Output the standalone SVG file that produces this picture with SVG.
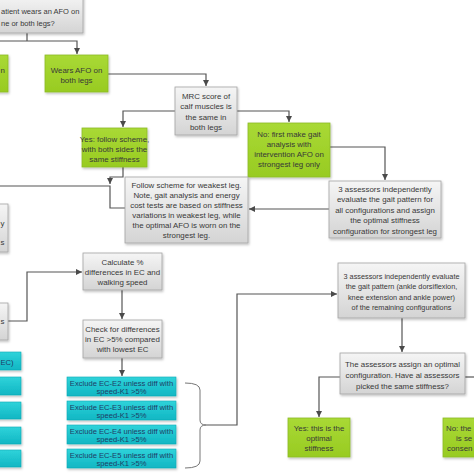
<svg xmlns="http://www.w3.org/2000/svg" width="474" height="474" viewBox="0 0 474 474">
<defs>
<linearGradient id="gGrey" x1="0" y1="0" x2="0" y2="1"><stop offset="0" stop-color="#f5f5f5"/><stop offset="1" stop-color="#d4d4d4"/></linearGradient>
<linearGradient id="gGreen" x1="0" y1="0" x2="0" y2="1"><stop offset="0" stop-color="#a9d935"/><stop offset="1" stop-color="#98cb22"/></linearGradient>
<linearGradient id="gCyan" x1="0" y1="0" x2="0" y2="1"><stop offset="0" stop-color="#2fd3da"/><stop offset="1" stop-color="#10b6c3"/></linearGradient>
<filter id="sh" x="-10%" y="-10%" width="130%" height="140%"><feDropShadow dx="1" dy="1.5" stdDeviation="0.8" flood-color="#000" flood-opacity="0.25"/></filter>
<marker id="ah" markerUnits="userSpaceOnUse" markerWidth="7" markerHeight="7" refX="6" refY="3" orient="auto"><path d="M0,0 L6,3 L0,6 z" fill="#4a4a4a"/></marker>
</defs>
<style>
.grey{fill:url(#gGrey);stroke:#a3a3a3;stroke-width:0.8;filter:url(#sh)}
.green{fill:url(#gGreen);stroke:#8dbb26;stroke-width:0.8;filter:url(#sh)}
.cyan{fill:url(#gCyan);stroke:#12aab5;stroke-width:0.6;filter:url(#sh)}
text{font-family:"Liberation Sans",Arial,sans-serif;font-size:7.9px;fill:#383838;text-anchor:middle}
.cy text{fill:#1f3d66;font-size:7.6px}
.sm text{font-size:7.3px}
.st{text-anchor:start}
.ln{fill:none;stroke:#555;stroke-width:1.2}
.ar{marker-end:url(#ah)}
</style>
<g id="connectors">
<path class="ln" d="M27,33 V41"/>
<path class="ln ar" d="M0,41 H77 V54"/>
<path class="ln ar" d="M108,74 H206 V86"/>
<path class="ln ar" d="M175,111 H123 V127"/>
<path class="ln ar" d="M237,111 H289 V122"/>
<path class="ln ar" d="M123,167 V177 H110 V184"/>
<path class="ln" d="M0,186 H110 V208 H125"/>
<path class="ln ar" d="M330,147 H385 V180"/>
<path class="ln ar" d="M329,209 H249"/>
<path class="ln ar" d="M8,321 H27 V272 H82"/>
<path class="ln ar" d="M122,290 V319"/>
<path class="ln ar" d="M122,358 V376"/>
<path class="ln" style="stroke:#666;stroke-width:0.9" d="M185,383 Q200,383 200,390 V420 Q200,425 206,425 Q200,425 200,430 V461 Q200,468 185,468"/>
<path class="ln ar" d="M206,425 H237 V294 H337"/>
<path class="ln ar" d="M402,318 V352"/>
<path class="ln ar" d="M340,377 H319 V417"/>
<path class="ln" d="M465,377 H474"/>
</g>
<g id="n_top"><rect class="grey" x="-20" y="-5" width="103" height="38"/><text class="st" x="1" y="13.5" style="font-size:7.5px">atient wears an AFO on</text><text class="st" x="1" y="25.5" style="font-size:7.5px">ne or both legs?</text></g>
<g id="n_oneleg"><rect class="green" x="-30" y="55" width="38" height="37"/><text class="st" x="0.5" y="72.5">n</text></g>
<g id="n_bothlegs"><rect class="green" x="45" y="55" width="63" height="37"/><text x="76.5" y="72.5">Wears AFO on</text><text x="76.5" y="83">both legs</text></g>
<g id="n_mrc"><rect class="grey" x="175" y="87" width="62" height="48"/><text x="206" y="98.5">MRC score of</text><text x="206" y="109">calf muscles is</text><text x="206" y="119.5">the same in</text><text x="206" y="130">both legs</text></g>
<g id="n_yes"><rect class="green" x="82" y="128" width="65" height="39"/><text x="114.5" y="141.5">Yes: follow scheme,</text><text x="114.5" y="151.5">with both sides the</text><text x="114.5" y="161.5">same stiffness</text></g>
<g id="n_no"><rect class="green" x="248" y="123" width="82" height="54"/><text x="289" y="136.5">No: first make gait</text><text x="289" y="146.5">analysis with</text><text x="289" y="156.5">intervention AFO on</text><text x="289" y="166.5">strongest leg only</text></g>
<g id="n_follow"><rect class="grey" x="125" y="177" width="123" height="66"/><text x="186.5" y="187.5">Follow scheme for weakest leg.</text><text x="186.5" y="197.5">Note, gait analysis and energy</text><text x="186.5" y="207.5">cost tests are based on stiffness</text><text x="186.5" y="217.5">variations in weakest leg, while</text><text x="186.5" y="227.5">the optimal AFO is worn on the</text><text x="186.5" y="238">strongest leg.</text></g>
<g id="n_assess1"><rect class="grey" x="329" y="181" width="112" height="57"/><text x="385" y="191.5">3 assessors independently</text><text x="385" y="202">evaluate the gait pattern for</text><text x="385" y="212.5">all configurations and assign</text><text x="385" y="223">the optimal stiffness</text><text x="385" y="233.5">configuration for strongest leg</text></g>
<g id="n_left1"><rect class="grey" x="-30" y="204" width="38" height="48"/><text class="st" x="0.5" y="226">y</text><text class="st" x="0.5" y="245">s</text></g>
<g id="n_left2"><rect class="grey" x="-30" y="303" width="38" height="37"/><text class="st" x="0.5" y="324">s</text></g>
<g id="n_calc"><rect class="grey" x="83" y="253" width="79" height="37"/><text x="122.5" y="264.5">Calculate %</text><text x="122.5" y="274.5">differences in EC and</text><text x="122.5" y="284.5">walking speed</text></g>
<g id="n_check"><rect class="grey" x="83" y="320" width="79" height="38"/><text x="122.5" y="331.5">Check for differences</text><text x="122.5" y="341.5">in EC &gt;5% compared</text><text x="122.5" y="351.5">with lowest EC</text></g>
<g id="n_leftcyan" class="cy"><rect class="cyan" x="-60" y="352" width="81" height="18"/><rect class="cyan" x="-60" y="377" width="81" height="18"/><rect class="cyan" x="-60" y="402" width="81" height="17"/><rect class="cyan" x="-60" y="427" width="81" height="17"/><rect class="cyan" x="-60" y="450" width="81" height="17"/><text class="st" x="0.5" y="365">EC)</text></g>
<g id="n_ex2" class="cy"><rect class="cyan" x="67" y="377" width="109" height="19"/><text x="121.5" y="385.5">Exclude EC-E2 unless diff with</text><text x="121.5" y="394">speed-K1 &gt;5%</text></g>
<g id="n_ex3" class="cy"><rect class="cyan" x="67" y="401" width="109" height="19"/><text x="121.5" y="409.5">Exclude EC-E3 unless diff with</text><text x="121.5" y="418">speed-K1 &gt;5%</text></g>
<g id="n_ex4" class="cy"><rect class="cyan" x="67" y="425" width="109" height="19"/><text x="121.5" y="433.5">Exclude EC-E4 unless diff with</text><text x="121.5" y="442">speed-K1 &gt;5%</text></g>
<g id="n_ex5" class="cy"><rect class="cyan" x="67" y="449" width="109" height="19"/><text x="121.5" y="457.5">Exclude EC-E5 unless diff with</text><text x="121.5" y="466">speed-K1 &gt;5%</text></g>
<g id="n_assess2" class="sm"><rect class="grey" x="338" y="263" width="127" height="55"/><text x="401.5" y="278.5">3 assessors independently evaluate</text><text x="401.5" y="289">the gait pattern (ankle dorsiflexion,</text><text x="401.5" y="299.5">knee extension and ankle power)</text><text x="401.5" y="310">of the remaining configurations</text></g>
<g id="n_assign"><rect class="grey" x="340" y="353" width="125" height="41"/><text x="402.5" y="366.5">The assessors assign an optimal</text><text x="402.5" y="378">configuration. Have al assessors</text><text x="402.5" y="389">picked the same stiffness?</text></g>
<g id="n_yesopt"><rect class="green" x="288" y="418" width="62" height="39"/><text x="319" y="430.5">Yes: this is the</text><text x="319" y="441">optimal</text><text x="319" y="451">stiffness</text></g>
<g id="n_noconsensus"><rect class="green" x="443" y="418" width="60" height="39"/><text class="st" x="446" y="430.5">No: the</text><text class="st" x="456" y="441">is se</text><text class="st" x="447" y="451">consen</text></g>
</svg>
